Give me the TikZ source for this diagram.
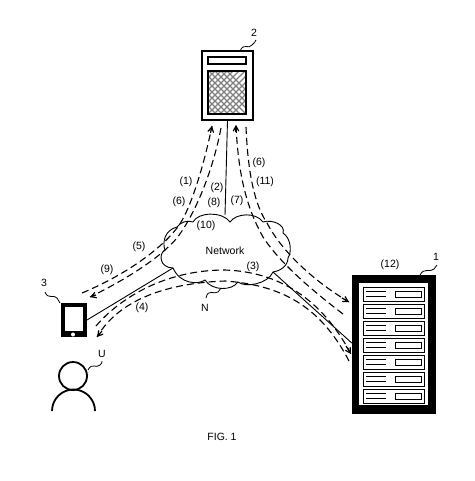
\documentclass[tikz,border=0pt]{standalone}
\usepackage{fontspec}
\setmainfont{Liberation Sans}
\usetikzlibrary{arrows}
\tikzset{
  blackbox/.style={draw,line width=1.1pt,fill=white,inner sep=0pt},
  rowbox/.style={draw,line width=0.9pt,fill=white,inner sep=0pt,minimum width=61pt,minimum height=14pt},
  slotbox/.style={draw,line width=0.9pt,fill=white,inner sep=0pt,minimum width=26pt,minimum height=6pt},
  link/.style={line width=0.9pt},
  flow/.style={line width=1.1pt,dash pattern=on 7pt off 4pt},
  tip/.style={line width=1.2pt,-angle 60},
  wiggle/.style={line width=0.8pt},
  lab/.style={font=\fontsize{10.5}{12}\selectfont,inner sep=0pt}
}
\begin{document}
\begin{tikzpicture}[x=1pt,y=-1pt]
  \useasboundingbox (0,0) rectangle (474,481);
  % cloud
  \draw[link,fill=white] (193,222) coordinate (netTL)
    .. controls (198,212) and (222,211) .. (230,222)
    .. controls (236,213) and (256,212) .. (263,222) coordinate (netT2)
    .. controls (272,219) and (286,225) .. (283,233)
    .. controls (291,238) and (292,252) .. (288,258) coordinate (netR)
    .. controls (288,266) and (280,271) .. (273,272) coordinate (netBR)
    .. controls (268,284) and (245,288) .. (238,282)
    .. controls (232,291) and (212,291) .. (205,280)
    .. controls (198,285) and (180,284) .. (173,268) coordinate (netBL)
    .. controls (160,268) and (158,254) .. (165,250)
    .. controls (162,242) and (165,230) .. (177,227)
    .. controls (180,222) and (188,220) .. (193,222) -- cycle;
  \coordinate (netT) at (225,215);
  % manager 2
  \node[blackbox,minimum width=51pt,minimum height=69pt] (mgr) at (227.5,85.5) {};
  \node[blackbox,minimum width=38pt,minimum height=7pt] (mgrbar) at (227,60.5) {};
  \begin{scope}
    \clip (208,71) rectangle (246,114);
    \foreach \k in {0,6,...,96} {
      \draw[gray,line width=1.1pt] (190+\k,60) -- (190+\k-70,130);
      \draw[gray,line width=1.1pt] (120+\k,60) -- (120+\k+70,130);
    }
  \end{scope}
  \node[draw,line width=1.1pt,minimum width=38pt,minimum height=43pt,inner sep=0pt] (mgrgrid) at (227,92.5) {};
  % tablet 3
  \node[draw,line width=4pt,fill=white,minimum width=22pt,minimum height=30pt,inner sep=0pt] (tablet) at (74,320) {};
  \fill[black] (63,331) rectangle (85,337);
  \node[circle,fill=white,minimum size=4pt,inner sep=0pt] (tabletbtn) at (73,334.5) {};
  % user
  \node[circle,draw,line width=1.8pt,minimum size=28pt,inner sep=0pt] (head) at (73,376) {};
  \draw[line width=1.8pt] (52,411) arc[start angle=180,end angle=360,radius=21.5] coordinate (bodyR);
  % server 1
  \node[draw,fill=black,minimum width=83pt,minimum height=138pt,inner sep=0pt] (srv) at (393.5,344) {};
  \node[fill=white,minimum width=69pt,minimum height=122pt,inner sep=0pt] (srvin) at (393.5,344) {};
  \foreach \i in {0,...,6} {
    \node[rowbox] (row\i) at (393.5,294+17*\i) {};
    \node[slotbox] (slot\i) at (408,294+17*\i) {};
    \draw[line width=1pt] (366,291.5+17*\i) -- (386,291.5+17*\i) (366,296+17*\i) -- (386,296+17*\i);
  }
  % links
  \draw[link] (mgr.south) -- (netT);
  \draw[link] (tablet.east |- 0,320) -- (netBL);
  \draw[link] (netBR) -- (srv.west |- 0,343);
  % free ends of flows
  \coordinate (a1) at (82,293);
  \coordinate (a2) at (212,126);
  \coordinate (b1) at (221,128);
  \coordinate (b2) at (90,297);
  \coordinate (c1) at (246,127);
  \coordinate (c2) at (349,302);
  \coordinate (d1) at (343,314);
  \coordinate (d2) at (236,125);
  \coordinate (e1) at (96,326);
  \coordinate (e2) at (351,354);
  \coordinate (f1) at (349,361);
  \coordinate (f2) at (97,337);
  % dashed flows
  \draw[flow] (a1) .. controls (125,275) and (160,250) .. (177,228) .. controls (190,212) and (204,165) .. (a2);
  \draw[flow] (b1) .. controls (214,165) and (198,210) .. (177,238) .. controls (160,258) and (125,280) .. (b2);
  \draw[flow] (c1) .. controls (248,175) and (255,205) .. (267,223) .. controls (282,252) and (315,282) .. (c2);
  \draw[flow] (d1) .. controls (305,285) and (278,260) .. (263,237) .. controls (245,205) and (238,170) .. (d2);
  \draw[flow] (e1) .. controls (120,298) and (165,270) .. (225,270) .. controls (285,272) and (325,305) .. (e2);
  \draw[flow] (f1) .. controls (320,305) and (280,285) .. (225,281) .. controls (170,283) and (120,298) .. (f2);
  % arrow heads
  \draw[tip] (210.5,133) -- (a2);
  \draw[tip] (96,295) -- (b2);
  \draw[tip] (342,298) -- (c2);
  \draw[tip] (236,132) -- (d2);
  \draw[tip] (346,346) -- (e2);
  \draw[tip] (102,331) -- (f2);
  % wiggles
  \draw[wiggle] (240,51) .. controls (244,42) and (248,50) .. (252,45) .. controls (255,42) and (255,42) .. (256,40);
  \draw[wiggle] (420,275) .. controls (424,267) and (430,273) .. (434,269) .. controls (436,267) and (436,267) .. (437,265);
  \draw[wiggle] (45,292) .. controls (48,300) and (54,294) .. (57,298) .. controls (59,301) and (59,301) .. (60,303);
  \draw[wiggle] (88,370) .. controls (92,362) and (96,369) .. (100,365) .. controls (102,363) and (102,363) .. (102,361);
  \draw[wiggle] (206,298) .. controls (208,288) and (214,295) .. (218,292) .. controls (220,290) and (220,290) .. (221,288);
  % labels
  \node[lab] (lab2) at (254,33) {2};
  \node[lab] (lab1) at (436,257) {1};
  \node[lab] (lab3) at (44,283) {3};
  \node[lab] (labU) at (102,354) {U};
  \node[lab] (labN) at (205,308) {N};
  \node[lab] (labnet) at (225,251) {Network};
  \node[lab] at (186,182) {(1)};
  \node[lab] at (217,188) {(2)};
  \node[lab] at (179,202) {(6)};
  \node[lab] at (214,203) {(8)};
  \node[lab] at (237,201) {(7)};
  \node[lab] at (259,163) {(6)};
  \node[lab] at (265,182) {(11)};
  \node[lab] at (206,226) {(10)};
  \node[lab] at (139,247) {(5)};
  \node[lab] at (107,270) {(9)};
  \node[lab] at (142,308) {(4)};
  \node[lab] at (253,267) {(3)};
  \node[lab] at (390,265) {(12)};
  \node[lab] (fig) at (222,437) {FIG. 1};
\end{tikzpicture}
\end{document}
